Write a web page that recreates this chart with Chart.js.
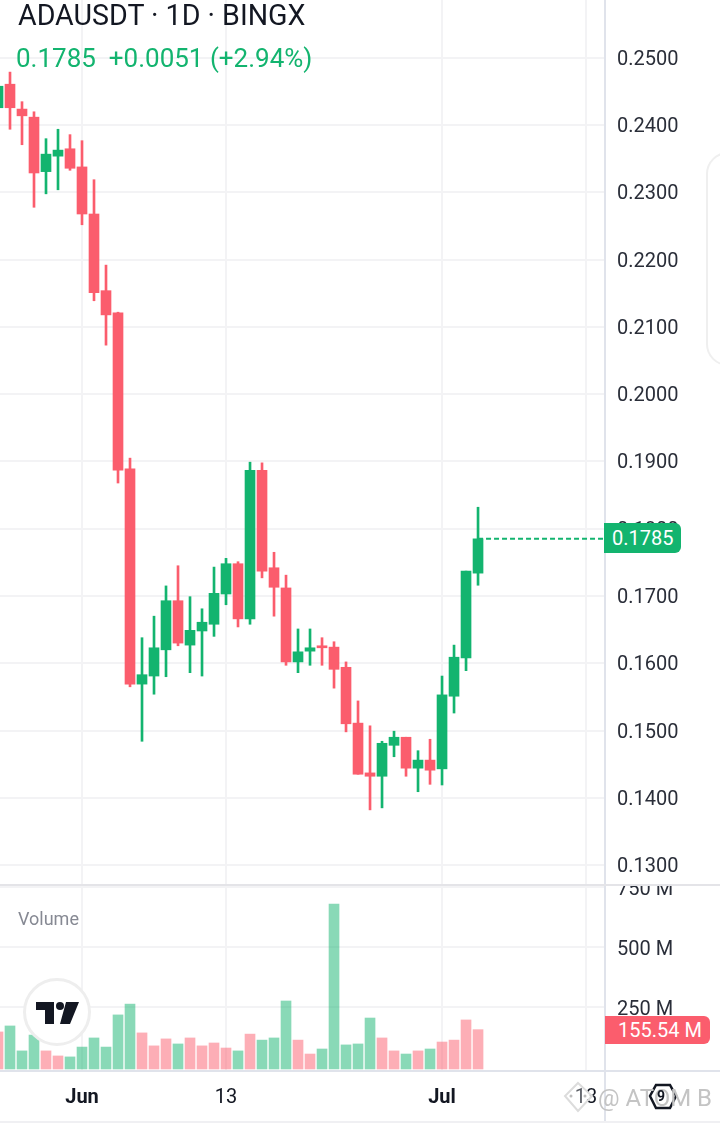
<!DOCTYPE html>
<html>
<head>
<meta charset="utf-8">
<title>ADAUSDT</title>
<script src="https://cdn.jsdelivr.net/npm/chart.js@4/dist/chart.umd.js"></script>
<style>
  html, body { margin: 0; padding: 0; background: #fff; }
  body { width: 720px; height: 1123px; position: relative; overflow: hidden; font-family: Roboto, sans-serif; color: #131722; }
  canvas { position: absolute; left: 0; display: block; }
  #graficoPreco { top: 0; }
  #graficoVolume { top: 885px; }
  .abs { position: absolute; white-space: pre; }
  #titulo { left: 18px; top: 0; font-size: 28.6px; line-height: 30px; }
  #cotacao { left: 16px; top: 43px; font-size: 26px; line-height: 30px; color: #13b46f; }
  #volLabel { left: 18px; top: 908px; font-size: 18px; line-height: 22px; color: #868993; }
  .sep { position: absolute; background: #e4e4e8; }
  .badge { position: absolute; left: 604px; color: #fff; font-size: 20px; line-height: 30px; padding-left: 8px; border-radius: 0 6px 6px 0; }
  #badgePreco { width: 69px; height: 30px; background: #13b46f; }
  #badgeVol { left: 605px; height: 28px; line-height: 28px; padding-left: 13px; width: 92px; background: #fb5d6d; }
  #painel { position: absolute; left: 706px; top: 152px; width: 60px; height: 210px; background: #fff; border: 2px solid #efefef; border-radius: 22px; }
  #marca { color: #c4c4c4; left: 598px; top: 1084px; font-size: 24px; line-height: 28px; }
</style>
</head>
<body>
<canvas id="graficoPreco" width="720" height="885"></canvas>
<canvas id="graficoVolume" width="720" height="238"></canvas>

<div class="sep" style="left:0;top:884px;width:720px;height:2px"></div>
<div class="sep" style="left:0;top:1070px;width:720px;height:2px;background:#e0e3eb"></div>
<div class="sep" style="left:604px;top:1070px;width:2px;height:53px;background:#e0e3eb"></div>
<div class="sep" style="left:0;top:1121px;width:720px;height:2px;background:#f0f0f3"></div>

<div id="titulo" class="abs">ADAUSDT · 1D · BINGX</div>
<div id="cotacao" class="abs">0.1785  +0.0051 (+2.94%)</div>
<div id="volLabel" class="abs">Volume</div>
<div id="painel"></div>
<div id="badgePreco" class="badge">0.1785</div>
<div id="badgeVol" class="badge">155.54 M</div>

<svg class="abs" style="left:22px;top:977px" width="70" height="70" viewBox="0 0 70 70">
  <circle cx="35" cy="35" r="32.5" fill="#fff" stroke="#eeeeee" stroke-width="3"/>
  <path d="M14 25H32V47H23V33H14Z M44 25H57L48 47H38Z" fill="#131722"/>
  <circle cx="38" cy="29" r="4" fill="#131722"/>
</svg>

<svg class="abs" style="left:560px;top:1080px" width="120" height="36" viewBox="0 0 120 36">
  <path d="M18 3L32 16L18 31L5 16Z" fill="#fff" fill-opacity="0.3" stroke="#dcdcdc" stroke-width="2"/>
  <circle cx="11" cy="16" r="1.5" fill="#bdbdbd"/><circle cx="25" cy="16" r="1.5" fill="#bdbdbd"/>
  <path d="M96 5H110L116 16L110 28H96L90 16Z" fill="none" stroke="#131722" stroke-width="2.5"/>
</svg>
<div id="marca" class="abs">@ ATOM B</div>
<div class="abs" style="left:657px;top:1088px;font-size:14px;line-height:16px;font-weight:700">9</div>

<script>
const datas = ['May 25','May 26','May 27','May 28','May 29','May 30','May 31','Jun 1','Jun 2','Jun 3','Jun 4','Jun 5','Jun 6','Jun 7','Jun 8','Jun 9','Jun 10','Jun 11','Jun 12','Jun 13','Jun 14','Jun 15','Jun 16','Jun 17','Jun 18','Jun 19','Jun 20','Jun 21','Jun 22','Jun 23','Jun 24','Jun 25','Jun 26','Jun 27','Jun 28','Jun 29','Jun 30','Jul 1','Jul 2','Jul 3','Jul 4']
const aberturas = [.2426,.2461,.2424,.2412,.2331,.2354,.2365,.2338,.2268,.2154,.2121,.1889,.1569,.1581,.1620,.1693,.1627,.1648,.1658,.1703,.1748,.1666,.1887,.1742,.1712,.1602,.1618,.1626,.1624,.1594,.1511,.1437,.1432,.1478,.1490,.1444,.1456,.1443,.1551,.1608,.1734]
const fechamentos = [.2458,.2426,.2414,.2329,.2357,.2363,.2336,.2268,.2151,.2118,.1887,.1569,.1583,.1623,.1693,.1630,.1649,.1661,.1704,.1748,.1666,.1887,.1737,.1713,.1602,.1617,.1623,.1623,.1591,.1510,.1435,.1432,.1481,.1490,.1444,.1456,.1441,.1553,.1609,.1737,.1785]
const maximos = [.2468,.2479,.2435,.2420,.2380,.2394,.2386,.2377,.2319,.2192,.2122,.1905,.1638,.1670,.1715,.1745,.1699,.1681,.1743,.1756,.1751,.1899,.1898,.1765,.1731,.1651,.1651,.1638,.1632,.1602,.1544,.1507,.1484,.1499,.1490,.1470,.1487,.1581,.1627,.1737,.1832]
const minimos = [.2412,.2394,.2371,.2278,.2298,.2304,.2333,.2252,.2139,.2073,.1868,.1565,.1484,.1554,.1580,.1626,.1586,.1581,.1640,.1687,.1654,.1658,.1727,.1670,.1597,.1586,.1597,.1597,.1563,.1498,.1435,.1382,.1385,.1461,.1432,.1409,.1420,.1419,.1526,.1589,.1716]
const volumes = [146,171,67,133,67,46,42,83,121,83,217,262,142,88,117,96,121,88,100,79,67,137,112,121,275,112,54,75,679,92,96,204,121,67,54,67,75,104,112,196,155.54]
const volumeSobe = [0,1,1,1,0,0,1,1,1,1,1,1,0,0,0,1,0,0,0,0,1,0,1,1,1,0,0,1,1,1,1,1,0,0,1,0,1,0,0,0,0]

const ticksPreco = [.13,.14,.15,.16,.17,.18,.19,.20,.21,.22,.23,.24,.25]
const ticksVolume = [250,500,750]
const ticksTempo = [{ pos: 7, texto: 'Jun' }, { pos: 19, texto: '13' }, { pos: 37, texto: 'Jul' }, { pos: 49, texto: '13' }]
const ultimoPreco = 0.1785
const ultimoVolume = 155.54

const VERDE = '#13b46f'
const VERMELHO = '#fb5d6d'
const VERDE_VOL = 'rgba(19,180,111,0.5)'
const VERMELHO_VOL = 'rgba(251,93,109,0.5)'
const GRADE = '#f3f3f5'
const EIXO = '#e0e3eb'

const coresVelas = aberturas.map((a, i) => fechamentos[i] >= a ? VERDE : VERMELHO)
const coresVolume = volumeSobe.map(s => s ? VERDE_VOL : VERMELHO_VOL)

// mesma janela de tempo nos dois paineis
const xMin = 1 / 6
const xMax = 50.58

// o Chart.js reserva meia altura de rotulo nas pontas, aqui nao queremos
function semFolga(scale) {
  scale.paddingTop = 0
  scale.paddingBottom = 0
  scale.paddingLeft = 0
  scale.paddingRight = 0
}

function eixoTempo(comRotulos) {
  return {
    type: 'linear',
    offset: false,
    min: xMin,
    max: xMax,
    afterBuildTicks: scale => { scale.ticks = ticksTempo.map(t => ({ value: t.pos })) },
    afterFit: scale => {
      scale.height = comRotulos ? 52 : 0
      semFolga(scale)
    },
    grid: { offset: false, color: GRADE, lineWidth: 2, drawTicks: false },
    border: comRotulos ? { display: true, color: EIXO, width: 2 } : { display: false },
    ticks: {
      display: comRotulos,
      autoSkip: false,
      maxRotation: 0,
      padding: 15,
      color: '#131722',
      font: ctx => ({
        family: 'Roboto',
        size: 20,
        weight: ctx.tick && ctx.tick.value % 30 === 7 ? '700' : '400'
      }),
      callback: v => (ticksTempo.find(t => t.pos === v) || {}).texto || ''
    }
  }
}

function eixoValor(min, max, valores, rotulo, deslocamento) {
  return {
    position: 'right',
    min: min,
    max: max,
    afterBuildTicks: scale => { scale.ticks = valores.map(v => ({ value: v })) },
    afterFit: scale => {
      scale.width = 115
      semFolga(scale)
    },
    grid: { color: GRADE, lineWidth: 2, drawTicks: false },
    border: { display: true, color: EIXO, width: 2 },
    ticks: {
      autoSkip: false,
      padding: 12,
      labelOffset: deslocamento,
      color: '#2a2e39',
      font: { family: 'Roboto', size: 20 },
      callback: rotulo
    }
  }
}

const graficoPreco = new Chart(document.getElementById('graficoPreco'), {
  type: 'bar',
  data: {
    datasets: [
      {
        label: 'Corpo',
        order: 1,
        grouped: false,
        barThickness: 10,
        backgroundColor: coresVelas,
        data: datas.map((d, i) => ({ x: i, y: [aberturas[i], fechamentos[i]] }))
      },
      {
        label: 'Pavio',
        order: 2,
        grouped: false,
        barThickness: 2,
        backgroundColor: coresVelas,
        data: datas.map((d, i) => ({ x: i, y: [minimos[i], maximos[i]] }))
      },
      {
        type: 'line',
        label: 'Ultimo',
        order: 3,
        borderColor: VERDE,
        borderWidth: 2,
        borderDash: [5, 3],
        pointRadius: 0,
        data: [{ x: datas.length - 1, y: ultimoPreco }, { x: xMax, y: ultimoPreco }]
      }
    ]
  },
  options: {
    responsive: false,
    animation: false,
    layout: { padding: 0 },
    plugins: { legend: { display: false }, tooltip: { enabled: false } },
    scales: {
      x: eixoTempo(false),
      y: eixoValor(0.12703, 0.25862, ticksPreco, v => v.toFixed(4), 2)
    }
  }
})

const graficoVolume = new Chart(document.getElementById('graficoVolume'), {
  type: 'bar',
  data: {
    datasets: [{
      label: 'Volume',
      grouped: false,
      barThickness: 10,
      base: -8.3,
      backgroundColor: coresVolume,
      data: volumes.map((v, i) => ({ x: i, y: v }))
    }]
  },
  options: {
    responsive: false,
    animation: false,
    layout: { padding: 0 },
    plugins: { legend: { display: false }, tooltip: { enabled: false } },
    scales: {
      x: eixoTempo(true),
      y: eixoValor(-16.7, 758.3, ticksVolume, v => v + ' M', 3)
    }
  }
})

// etiquetas seguem a escala de cada painel
const badgePreco = document.getElementById('badgePreco')
badgePreco.style.top = (graficoPreco.scales.y.getPixelForValue(ultimoPreco) - 16) + 'px'
const badgeVol = document.getElementById('badgeVol')
badgeVol.style.top = (885 + graficoVolume.scales.y.getPixelForValue(ultimoVolume) - 14) + 'px'
</script>
</body>
</html>
